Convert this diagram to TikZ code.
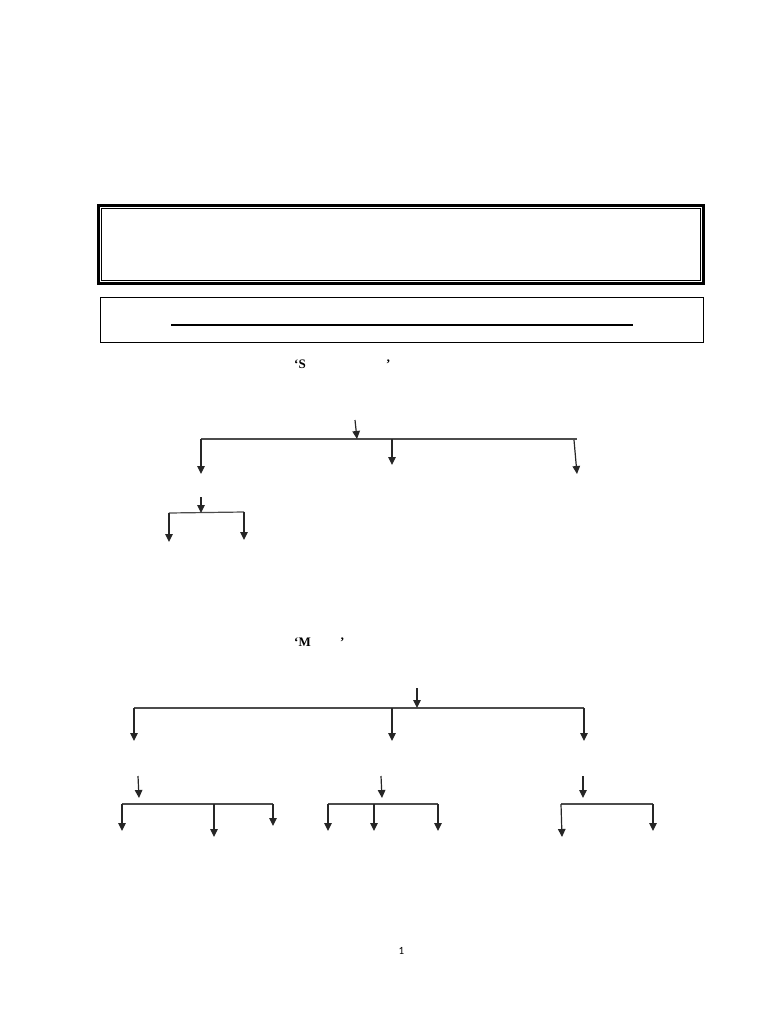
\documentclass[tikz,border=0pt]{standalone}
\usepackage{fontspec}
\setmainfont{Liberation Serif}
\newfontfamily\pagefont{Carlito}
\usetikzlibrary{arrows.meta,calc}
\tikzset{
	arr/.style={-{Triangle[length=8pt,width=7.5pt]}, line width=1.2pt, black!85},
	bar/.style={line width=1.2pt, black!70},
	lbl/.style={font=\bfseries\fontsize{13}{15}\selectfont, inner sep=0pt, anchor=base west},
	headbox/.style={draw, line width=2.6pt, inner sep=0pt, outer sep=0pt, minimum width=605pt, minimum height=78pt},
	subbox/.style={draw, line width=0.8pt, inner sep=0pt, outer sep=0pt, minimum width=603pt, minimum height=45pt},
}
\begin{document}
\begin{tikzpicture}[x=1pt,y=-1pt]
	\fill [white] (0,0) rectangle (768,1024);
	\useasboundingbox (0,0) rectangle (768,1024);
	% boxes
	\node (head) [headbox] at (401,244.5) {};
	\draw [line width=0.7pt] ($(head.north west)+(2.7,2.7)$) rectangle ($(head.south east)-(2.7,2.7)$);
	\node (sub) [subbox] at (401.5,319.5) {};
	\coordinate (rl) at (171,325);
	\coordinate (rr) at (633,325);
	\draw [line width=2pt] (rl) -- (rr);

	\node (S) [lbl] at (294,368) {‘S};
	\node (Se) [lbl] at (386,368) {’};
	\node (M) [lbl] at (294,646) {‘M};
	\node (Me) [lbl] at (340,646) {’};
	\node (pg) [font=\pagefont\fontsize{11}{13}\selectfont] at (401.5,951) {1};

	% first tree
	\coordinate (sIn) at (355,420);
	\coordinate (sJ) at (357,439);
	\coordinate (sL) at (201,439);
	\coordinate (sM) at (392,439);
	\coordinate (sR) at (577,439);
	\coordinate (sR2) at (574,440);
	\coordinate (sA) at (201,474);
	\coordinate (sB) at (392,465);
	\coordinate (sC) at (577,474);
	\draw [bar] (sL) -- (sR);
	\draw [arr] (sIn) -- (sJ);
	\draw [arr] (sL) -- (sA);
	\draw [arr] (sM) -- (sB);
	\draw [arr] (sR2) -- (sC);

	\coordinate (tIn) at (201,497);
	\coordinate (tJ) at (201,513);
	\coordinate (tL) at (169,513);
	\coordinate (tR) at (244,512);
	\coordinate (tA) at (169,542);
	\coordinate (tB) at (244,540);
	\draw [bar] (tL) -- (tR);
	\draw [arr] (tIn) -- (tJ);
	\draw [arr] (tL) -- (tA);
	\draw [arr] (tR) -- (tB);

	% second tree
	\coordinate (mIn) at (417,688);
	\coordinate (mJ) at (417,708);
	\coordinate (mL) at (134,708);
	\coordinate (mM) at (392,708);
	\coordinate (mR) at (584,708);
	\coordinate (mA) at (134,741);
	\coordinate (mB) at (392,741);
	\coordinate (mC) at (584,741);
	\draw [bar] (mL) -- (mR);
	\draw [arr] (mIn) -- (mJ);
	\draw [arr] (mL) -- (mA);
	\draw [arr] (mM) -- (mB);
	\draw [arr] (mR) -- (mC);

	\coordinate (aIn) at (138,776);
	\coordinate (aJ) at (139,798);
	\coordinate (aL) at (122,804);
	\coordinate (aM) at (214,804);
	\coordinate (aR) at (273,804);
	\coordinate (a1) at (122,831);
	\coordinate (a2) at (214,837);
	\coordinate (a3) at (273,826);
	\draw [bar] (aL) -- (aR);
	\draw [arr] (aIn) -- (aJ);
	\draw [arr] (aL) -- (a1);
	\draw [arr] (aM) -- (a2);
	\draw [arr] (aR) -- (a3);

	\coordinate (bIn) at (381,776);
	\coordinate (bJ) at (382,798);
	\coordinate (bL) at (328,804);
	\coordinate (bM) at (374,804);
	\coordinate (bR) at (438,804);
	\coordinate (b1) at (328,831);
	\coordinate (b2) at (374,831);
	\coordinate (b3) at (438,831);
	\draw [bar] (bL) -- (bR);
	\draw [arr] (bIn) -- (bJ);
	\draw [arr] (bL) -- (b1);
	\draw [arr] (bM) -- (b2);
	\draw [arr] (bR) -- (b3);

	\coordinate (cIn) at (583,776);
	\coordinate (cJ) at (583,798);
	\coordinate (cL) at (561,804);
	\coordinate (cR) at (653,804);
	\coordinate (c1) at (562,837);
	\coordinate (c2) at (653,831);
	\draw [bar] (cL) -- (cR);
	\draw [arr] (cIn) -- (cJ);
	\draw [arr] (cL) -- (c1);
	\draw [arr] (cR) -- (c2);
\end{tikzpicture}
\end{document}
